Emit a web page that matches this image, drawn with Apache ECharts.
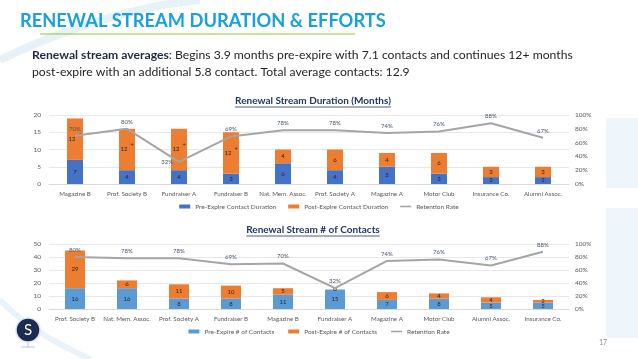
<!DOCTYPE html>
<html><head><meta charset="utf-8">
<script src="https://cdn.jsdelivr.net/npm/echarts@6/dist/echarts.min.js"></script>
<style>html,body{margin:0;padding:0;background:#fff}#c{width:638px;height:359px}</style>
</head><body><div id="c"></div>
<script>
// ---- Data: Renewal Stream Duration (Months) ----
const durCategories = ['Magazine B','Prof. Society B','Fundraiser A','Fundraiser B','Nat. Mem. Assoc.','Prof. Society A','Magazine A','Motor Club','Insurance Co.','Alumni Assoc.'];
const durPre = [7,4,4,3,6,4,5,3,2,2];
const durPost = [12,12,12,12,4,6,4,6,3,3];
const durPostPlus = [true,true,true,true,false,false,false,false,false,false];
const durRetention = [70,80,32,69,78,78,74,76,88,67];
const durLeftTicks = {min:0,max:20,interval:5};

// ---- Data: Renewal Stream # of Contacts ----
const cntCategories = ['Prof. Society B','Nat. Mem. Assoc.','Prof. Society A','Fundraiser B','Magazine B','Fundraiser A','Magazine A','Motor Club','Alumni Assoc.','Insurance Co.'];
const cntPre = [16,16,8,8,11,15,7,8,5,5];
const cntPost = [29,6,11,10,5,0,6,4,4,2];
const cntRetention = [80,78,78,69,70,32,74,76,67,88];
const cntLeftTicks = {min:0,max:50,interval:10};
const pctTicks = {min:0,max:100,interval:20};

const FONT = 'Lato';
const axisGray = '#595959';
const gridLine = '#d9d9d9';
const lineIcon = 'path://M0,0 L14,0 L14,2 L0,2 Z';

const chart = echarts.init(document.getElementById('c'), null, {renderer:'canvas'});

function measure(text, font){
  const c = document.createElement('canvas').getContext('2d');
  c.font = font; return c.measureText(text).width;
}
const t1 = 'Renewal Stream Duration (Months)';
const t2 = 'Renewal Stream # of Contacts';
const tFont = 'bold 10px ' + FONT;
const w1 = measure(t1, tFont), w2 = measure(t2, tFont);

function catAxis(grid, cats){
  return {type:'category', gridIndex:grid, data:cats,
    axisTick:{show:false}, axisLine:{lineStyle:{color:gridLine}},
    axisLabel:{interval:0, fontSize:6.2, color:axisGray, fontFamily:FONT, margin:7}};
}
function valAxis(grid, t, pos, pct){
  return {type:'value', gridIndex:grid, position:pos, min:t.min, max:t.max, interval:t.interval,
    splitLine:{show:!pct, lineStyle:{color:gridLine, width:0.6}},
    axisLine:{show:false}, axisTick:{show:false},
    axisLabel:{fontSize:6.5, color:axisGray, fontFamily:FONT, margin:pct?6:8, formatter: pct?'{value}%':'{value}'}};
}
const barLabel = {show:true, position:'inside', fontSize:6, color:'#262626', fontFamily:FONT};
const lineLabelStyle = {show:true, position:'top', distance:4, fontSize:6, color:'#44546a', fontFamily:FONT, formatter:'{c}%'};

const option = {
  animation:false,
  backgroundColor:'#ffffff',
  textStyle:{fontFamily:FONT},
  graphic:[
    // background decorations
    {type:'rect', shape:{x:606,y:118,width:32,height:70}, style:{fill:'#eef6fc'}, z:-10},
    {type:'rect', shape:{x:606,y:208,width:32,height:130}, style:{fill:'#eef6fc'}, z:-10},
    {type:'bezierCurve', shape:{x1:0,y1:60,x2:200,y2:0,cpx1:60,cpy1:30,cpx2:140,cpy2:5}, style:{stroke:'#e6f1f8',lineWidth:8,fill:null}, z:-10},
    {type:'bezierCurve', shape:{x1:0,y1:300,x2:90,y2:359,cpx1:30,cpy1:330,cpx2:60,cpy2:345}, style:{stroke:'#eaf3f9',lineWidth:6,fill:null}, z:-10},
    // title
    {type:'text', left:20, top:12, style:{text:'RENEWAL STREAM DURATION & EFFORTS', fill:'#1aa0da', font:'bold 18.3px '+FONT}},
    {type:'line', shape:{x1:40,y1:34,x2:355,y2:34}, style:{stroke:'#8cc63f', lineWidth:1}},
    // subtitle
    {type:'text', left:32, top:49, style:{
      rich:{b:{fontWeight:'bold', fontSize:12.2, fill:'#1f2a44', fontFamily:FONT}, n:{fontSize:12.2, fill:'#262626', fontFamily:FONT}},
      text:'{b|Renewal stream averages}{n|: Begins 3.9 months pre-expire with 7.1 contacts and continues 12+ months}'}},
    {type:'text', left:32, top:66, style:{text:'post-expire with an additional 5.8 contact. Total average contacts: 12.9', fill:'#262626', font:'12.2px '+FONT}},
    // chart titles
    {type:'text', x:313, y:101, style:{text:t1, font:tFont, fill:'#1f3864', align:'center', verticalAlign:'middle'}},
    {type:'line', shape:{x1:313-w1/2,y1:107,x2:313+w1/2,y2:107}, style:{stroke:'#1f3864', lineWidth:0.8}},
    {type:'text', x:313, y:230, style:{text:t2, font:tFont, fill:'#1f3864', align:'center', verticalAlign:'middle'}},
    {type:'line', shape:{x1:313-w2/2,y1:236,x2:313+w2/2,y2:236}, style:{stroke:'#1f3864', lineWidth:0.8}},
    // logo
    {type:'line', shape:{x1:28,y1:341,x2:28,y2:347}, style:{stroke:'#b8c4d4', lineWidth:1}},
    {type:'line', shape:{x1:21,y1:347,x2:35,y2:347}, style:{stroke:'#b8c4d4', lineWidth:1}},
    {type:'circle', shape:{cx:28,cy:330,r:12}, style:{fill:'#1b2b52', stroke:'#dfe6f0', lineWidth:1.5}},
    {type:'text', x:28, y:330, style:{text:'S', font:'15px '+FONT, fill:'#ffffff', align:'center', verticalAlign:'middle'}},
    // page number
    {type:'text', x:603, y:343, style:{text:'17', font:'7px '+FONT, fill:'#8a8a8a', align:'center', verticalAlign:'middle'}}
  ],
  legend:[
    {top:198, left:'center', itemWidth:11, itemHeight:4, itemGap:12, textStyle:{fontSize:6.5, color:axisGray, fontFamily:FONT},
     data:[{name:'Pre-Expire Contact Duration', icon:'rect'},{name:'Post-Expire Contact Duration', icon:'rect'},{name:'Retention Rate', icon:lineIcon}]},
    {top:323, left:'center', itemWidth:11, itemHeight:4, itemGap:14, textStyle:{fontSize:6.5, color:axisGray, fontFamily:FONT},
     data:[{name:'Pre-Expire # of Contacts', icon:'rect'},{name:'Post-Expire # of Contacts', icon:'rect'},{name:'Retention Rate', icon:lineIcon}]}
  ],
  grid:[
    {left:49, right:69, top:115, height:69, containLabel:false},
    {left:49, right:69, top:244, height:65, containLabel:false}
  ],
  xAxis:[catAxis(0,durCategories), catAxis(1,cntCategories)],
  yAxis:[valAxis(0,durLeftTicks,'left',false), valAxis(0,pctTicks,'right',true),
         valAxis(1,cntLeftTicks,'left',false), valAxis(1,pctTicks,'right',true)],
  series:[
    {name:'Pre-Expire Contact Duration', type:'bar', stack:'d', xAxisIndex:0, yAxisIndex:0, barWidth:16,
     itemStyle:{color:'#4472c4'}, label:barLabel, data:durPre},
    {name:'Post-Expire Contact Duration', type:'bar', stack:'d', xAxisIndex:0, yAxisIndex:0, barWidth:16,
     itemStyle:{color:'#ed7d31'},
     label:Object.assign({}, barLabel, {
       formatter: p => durPostPlus[p.dataIndex] ? '{v|' + p.value + '}{s|+}' : String(p.value),
       rich:{v:{fontSize:6, color:'#262626', fontFamily:FONT}, s:{fontSize:5.5, color:'#262626', padding:[0,0,8,3], fontFamily:FONT}}
     }), data:durPost},
    {name:'Retention Rate', type:'line', xAxisIndex:0, yAxisIndex:1, symbol:'circle', symbolSize:0.1, showSymbol:true,
     lineStyle:{color:'#a5a5a5', width:2}, itemStyle:{color:'#a5a5a5'}, z:5,
     label:lineLabelStyle,
     data: durRetention.map((v,i)=> i===2 ? {value:v, label:{position:'left', distance:6}} : v)},
    {name:'Pre-Expire # of Contacts', type:'bar', stack:'c', xAxisIndex:1, yAxisIndex:2, barWidth:20,
     itemStyle:{color:'#5b9bd5'}, label:barLabel, data:cntPre},
    {name:'Post-Expire # of Contacts', type:'bar', stack:'c', xAxisIndex:1, yAxisIndex:2, barWidth:20,
     itemStyle:{color:'#ed7d31'}, label:barLabel, data:cntPost},
    {name:'Retention Rate', type:'line', xAxisIndex:1, yAxisIndex:3, symbol:'circle', symbolSize:0.1, showSymbol:true,
     lineStyle:{color:'#a5a5a5', width:2}, itemStyle:{color:'#a5a5a5'}, z:5,
     label:lineLabelStyle, data:cntRetention}
  ]
};
chart.setOption(option);
</script></body></html>
